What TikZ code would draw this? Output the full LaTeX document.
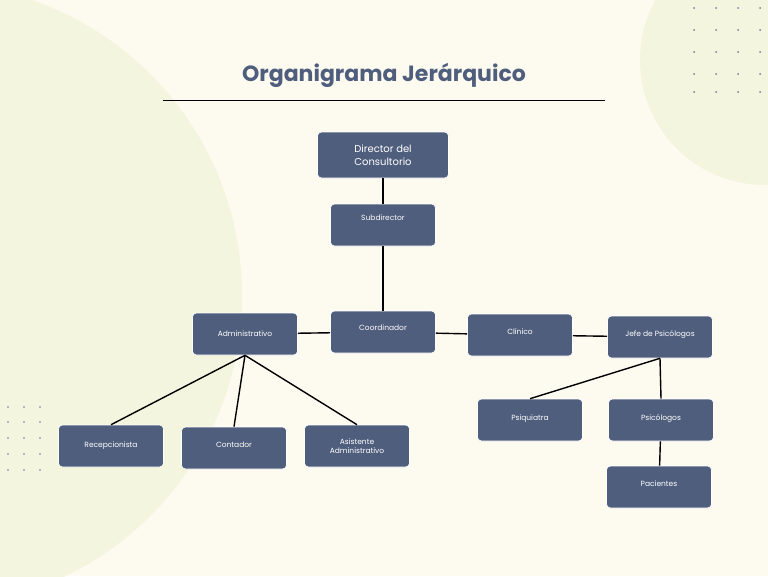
\documentclass[tikz,border=0pt]{standalone}
\usepackage{fontspec}
\setmainfont{Poppins}
\begin{document}
\definecolor{bg}{HTML}{FDFBF0}
\definecolor{blob}{HTML}{F4F5DE}
\definecolor{box}{HTML}{4F5E7D}
\begin{tikzpicture}[x=1pt,y=-1pt,
  bx/.style={draw=white,line width=0.6pt,fill=box,rounded corners=4pt,text=white,font=\fontsize{7.5}{9}\selectfont,align=center,minimum width=105pt,minimum height=42pt,inner sep=2pt},
  ln/.style={line width=1.4pt,black},
  dot/.style={fill=box!80,circle,inner sep=0pt,minimum size=2pt}]
\useasboundingbox (0,0) rectangle (768,576);
\fill[bg] (0,0) rectangle (768,576);
\begin{scope}
\clip (0,0) rectangle (768,576);
\fill[blob] (-70,295) circle (312);
\fill[blob] (765,60) circle (125);
\end{scope}
\foreach \x in {694,716,738,760} \foreach \y in {8,30,52,74,92} \node[dot] at (\x,\y) {};
\foreach \x in {8,24,40} \foreach \y in {407,422,438,454,470} \node[dot,minimum size=1.6pt] at (\x,\y) {};
\node[text=box,font=\fontsize{22}{26}\selectfont\bfseries] (t) at (384,75) {Organigrama Jerárquico};
\draw[line width=1pt] (163,100) -- (605,100);
\node[bx,minimum width=131pt,minimum height=46pt,font=\fontsize{10}{13}\selectfont] (dir) at (383,155) {Director del\\Consultorio};
\node[bx,text depth=14pt] (sub) at (383,225) {Subdirector};
\node[bx,text depth=8pt] (coo) at (383,332) {Coordinador};
\node[bx] (adm) at (245,334) {Administrativo};
\node[bx,text depth=6pt] (cli) at (520,335) {Clínico};
\node[bx,text depth=6pt] (jef) at (660,337) {Jefe de Psicólogos};
\node[bx,text depth=4pt] (psq) at (530,420) {Psiquiatra};
\node[bx,text depth=4pt] (psc) at (661,420) {Psicólogos};
\node[bx,text depth=6pt] (pac) at (659,487) {Pacientes};
\node[bx] (rec) at (111,446) {Recepcionista};
\node[bx,text depth=6pt] (con) at (234,448) {Contador};
\node[bx] (asi) at (357,446) {Asistente\\Administrativo};
\draw[ln] (dir) -- (sub);
\draw[ln] (sub) -- (coo);
\draw[ln] (coo) -- (adm);
\draw[ln] (coo) -- (cli);
\draw[ln] (cli) -- (jef);
\draw[ln] (adm.south) -- (rec.north);
\draw[ln] (adm.south) -- (con.north);
\draw[ln] (adm.south) -- (asi.north);
\draw[ln] (jef.south) -- (psq.north);
\draw[ln] (jef.south) -- (psc.north);
\draw[ln] (psc) -- (pac);
\end{tikzpicture}
\end{document}
